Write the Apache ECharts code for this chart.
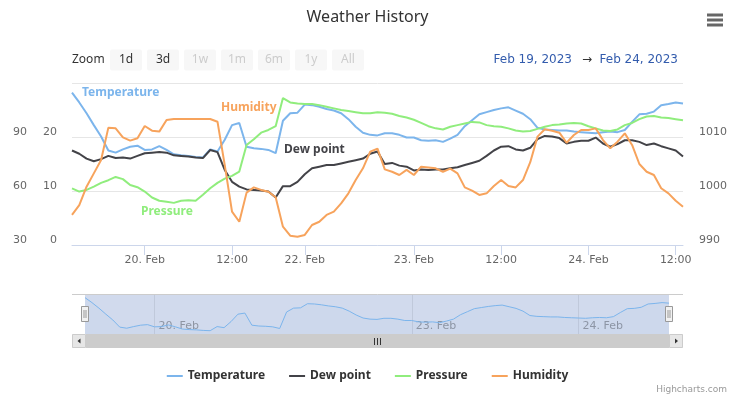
<!DOCTYPE html>
<html>
<head>
<meta charset="utf-8">
<script src="https://cdn.jsdelivr.net/npm/echarts@6/dist/echarts.min.js"></script>
<style>html,body{margin:0;padding:0;background:#fff}#c{width:735px;height:398px}</style>
</head>
<body>
<div id="c"></div>
<script>
// ---- data (hourly points on an ordinal axis, gaps removed) ----
const temperature = [28.2, 26.4, 24.4, 22.2, 20.1, 17.5, 17.1, 17.7, 18.2, 18.4, 17.6, 17.7, 18.3, 17.6, 16.8, 16.6, 16.5, 16.3, 16.2, 17.7, 17.3, 19.5, 22.2,
  22.6, 18.2, 17.9, 17.8, 17.6, 17.0, 23.0, 24.4, 24.5, 26.0, 25.9, 25.6, 25.2, 24.9, 24.4, 23.3, 21.9, 20.8, 20.4, 20.3, 20.7,
  20.7, 20.4, 19.9, 19.9, 19.4, 19.3, 19.4, 19.1, 19.7, 20.4, 22.0, 23.1, 24.2, 24.6, 25.0, 25.3, 25.5, 24.9, 24.3, 23.3,
  21.7, 21.4, 21.3, 21.2, 21.2, 21.0, 20.9, 20.8, 20.7, 20.9, 21.0, 20.9, 21.3, 22.8, 24.2, 24.3, 24.7, 25.9, 26.1, 26.4, 26.2];
const dewPoint = [17.5, 16.9, 16.0, 15.5, 15.9, 16.5, 16.1, 16.2, 16.0, 16.5, 17.0, 17.1, 17.2, 17.1, 16.6, 16.5, 16.4, 16.2, 16.1, 17.6, 17.2, 13.9, 11.7,
  10.8, 10.3, 10.2, 10.1, 9.9, 8.8, 10.9, 10.9, 11.7, 13.1, 14.2, 14.5, 14.8, 14.8, 15.1, 15.4, 15.7, 16.0, 16.9, 17.3, 15.0,
  15.2, 14.7, 14.5, 13.8, 14.0, 13.9, 14.0, 14.0, 14.2, 14.4, 14.8, 15.2, 15.6, 16.5, 17.5, 18.2, 18.3, 17.7, 17.5, 18.0,
  19.6, 20.2, 20.1, 19.8, 18.8, 19.1, 19.3, 19.3, 19.9, 18.8, 18.2, 18.7, 19.4, 19.4, 19.1, 18.5, 18.8, 18.3, 17.9, 17.5, 16.4];
const pressure = [1000.5, 999.9, 1000.2, 1000.8, 1001.5, 1002.0, 1002.6, 1002.2, 1001.1, 1000.7, 999.9, 998.8, 998.2, 998.0, 997.8, 998.2, 998.3, 998.2, 999.3, 1000.5, 1001.5, 1002.3, 1002.8,
  1003.6, 1008.5, 1009.6, 1010.8, 1011.3, 1012.0, 1017.2, 1016.4, 1016.2, 1016.1, 1016.1, 1015.9, 1015.6, 1015.3, 1015.0, 1014.8, 1014.6, 1014.4, 1014.4, 1014.6, 1014.5,
  1014.3, 1013.9, 1013.6, 1013.2, 1012.6, 1012.0, 1011.6, 1011.4, 1011.9, 1012.2, 1012.5, 1012.8, 1012.7, 1012.2, 1012.0, 1011.9, 1011.6, 1011.2, 1011.0, 1011.1,
  1011.5, 1011.9, 1012.2, 1012.3, 1012.5, 1012.6, 1012.5, 1012.0, 1011.6, 1011.2, 1011.1, 1011.4, 1012.2, 1012.6, 1013.3, 1013.8, 1013.9, 1013.6, 1013.5, 1013.3, 1013.1];
const humidity = [46.7, 52.2, 62.4, 69.8, 77.2, 95.2, 94.8, 89.8, 88.0, 89.3, 96.1, 93.5, 93.0, 99.4, 100, 100, 100, 100, 100, 100, 98.5, 74.4, 48.5,
  42.9, 59.1, 62.0, 60.6, 59.6, 56.5, 40.2, 35.2, 34.6, 35.6, 41.1, 42.9, 46.7, 48.5, 53.1, 58.7, 66.1, 72.6, 81.9, 83.5, 72.0,
  70.7, 68.9, 71.7, 68.9, 73.5, 73.1, 72.6, 70.7, 72.4, 69.8, 62.0, 60.2, 57.8, 58.7, 62.8, 66.1, 62.8, 62.0, 66.1, 76.0,
  90.2, 94.3, 93.5, 92.4, 86.8, 91.1, 93.9, 93.9, 94.8, 88.3, 83.7, 87.4, 92.0, 85.6, 75.0, 70.7, 68.9, 61.5, 58.7, 54.6, 51.3];

const tickPositions = [10, 22, 32, 47, 59, 71, 83];
const tickLabels = ['20. Feb', '12:00', '22. Feb', '23. Feb', '12:00', '24. Feb', '12:00'];
const navTickPositions = [10, 47, 71];
const navTickLabels = ['20. Feb', '23. Feb', '24. Feb'];
const seriesNames = ['Temperature', 'Dew point', 'Pressure', 'Humidity'];
const seriesColors = ['#7cb5ec', '#434348', '#90ed7d', '#f7a35c'];
const rangeButtons = ['1d', '3d', '1w', '1m', '6m', '1y', 'All'];
const enabledButtons = ['1d', '3d'];
const dateFrom = 'Feb 19, 2023';
const dateTo = 'Feb 24, 2023';

// ---- helpers ----
const pts = arr => arr.map((v, i) => [i, v]);
function txt(x, y, text, font, fill, align) {
  return { type: 'text', x: x, y: y, silent: true, z: 10,
    style: { text: text, font: font, fill: fill, align: align || 'left', verticalAlign: 'middle',
             textAlign: align || 'left', textVerticalAlign: 'middle' } };
}
function rect(x, y, w, h, fill, stroke, z, r) {
  return { type: 'rect', silent: true, z: z == null ? 5 : z,
    shape: { x: x, y: y, width: w, height: h, r: r || 0 },
    style: { fill: fill, stroke: stroke || null, lineWidth: stroke ? 1 : 0 } };
}
function line(x1, y1, x2, y2, stroke, w, z) {
  return { type: 'line', silent: true, z: z == null ? 6 : z,
    shape: { x1: x1, y1: y1, x2: x2, y2: y2 }, style: { stroke: stroke, lineWidth: w || 1 } };
}

const graphics = [];
// range selector
graphics.push(txt(72, 60, 'Zoom', '12px "Noto Sans"', '#333'));
rangeButtons.forEach((b, k) => {
  const x = 110 + k * 37;
  graphics.push(rect(x, 49.5, 32, 21, '#f7f7f7', null, 5, 2));
  graphics.push(txt(x + 16, 60, b, '12px "Noto Sans"', enabledButtons.includes(b) ? '#333' : '#cccccc', 'center'));
});
graphics.push(txt(572, 60, dateFrom, '12px "DejaVu Sans"', '#335cad', 'right'));
graphics.push(txt(587, 60, '\u2192', '12px "DejaVu Sans"', '#333', 'center'));
graphics.push(txt(678, 60, dateTo, '12px "DejaVu Sans"', '#335cad', 'right'));
// menu icon
[15, 20, 25].forEach(y => graphics.push(line(707, y, 723, y, '#666', 3)));
// series labels
graphics.push(txt(82, 93, 'Temperature', 'bold 12px "Noto Sans"', seriesColors[0]));
graphics.push(txt(221, 108, 'Humidity', 'bold 12px "Noto Sans"', seriesColors[3]));
graphics.push(txt(284, 150, 'Dew point', 'bold 12px "Noto Sans"', seriesColors[1]));
graphics.push(txt(141, 212, 'Pressure', 'bold 12px "Noto Sans"', seriesColors[2]));
// navigator mask + outline
graphics.push(rect(85, 294.5, 584, 39.5, 'rgba(102,133,194,0.3)', null, -1));
graphics.push(line(72, 294.5, 683, 294.5, '#cccccc', 1));
// handles
[85, 669].forEach(cx => {
  graphics.push(rect(cx - 3.5, 306.5, 7, 15, '#f2f2f2', '#999999', 7));
  graphics.push(line(cx - 1, 310, cx - 1, 318, '#999999', 1, 8));
  graphics.push(line(cx + 1, 310, cx + 1, 318, '#999999', 1, 8));
});
// scrollbar
graphics.push(rect(72, 334, 611, 14, '#f2f2f2', null, 5));
graphics.push(rect(86, 334, 583, 14, '#cccccc', null, 6));
graphics.push(rect(72.5, 334.5, 13, 13, '#e6e6e6', '#cccccc', 6));
graphics.push(rect(669.5, 334.5, 13, 13, '#e6e6e6', '#cccccc', 6));
graphics.push({ type: 'polygon', silent: true, z: 7, shape: { points: [[80.5, 338.5], [80.5, 343.5], [77.5, 341]] }, style: { fill: '#333' } });
graphics.push({ type: 'polygon', silent: true, z: 7, shape: { points: [[675, 338.5], [675, 343.5], [678, 341]] }, style: { fill: '#333' } });
[374.5, 377.5, 380.5].forEach(x => graphics.push(line(x, 338, x, 345, '#333', 1, 7)));
// credits
graphics.push(txt(727, 390, 'Highcharts.com', '9px "DejaVu Sans"', '#999999', 'right'));

const chart = echarts.init(document.getElementById('c'), null, { renderer: 'canvas' });
const axisLabelFont = { fontFamily: 'DejaVu Sans', fontSize: 11, color: '#666666' };
const yLabel = extra => Object.assign({ showMaxLabel: false, verticalAlign: 'bottom', lineHeight: 9,
  formatter: v => String(v) }, axisLabelFont, extra);

chart.setOption({
  animation: false,
  backgroundColor: '#ffffff',
  textStyle: { fontFamily: 'DejaVu Sans' },
  title: { text: 'Weather History', left: 'center', top: 9, padding: 0,
    textStyle: { fontFamily: 'Noto Sans', fontSize: 16, fontWeight: 'normal', color: '#333333' } },
  legend: {
    data: seriesNames.map(n => ({ name: n, icon: 'rect' })),
    top: 365, left: 'center', itemWidth: 16, itemHeight: 2, itemGap: 24,
    textStyle: { fontFamily: 'Noto Sans', fontSize: 12, fontWeight: 'bold', color: '#333333' }
  },
  grid: [
    { left: 72, right: 52, top: 83, height: 162 },
    { left: 85, right: 66, top: 295, height: 39 }
  ],
  xAxis: [
    { type: 'value', gridIndex: 0, min: 0, max: 84,
      axisLine: { show: true, lineStyle: { color: '#ccd6eb', width: 1 } },
      axisTick: { show: true, customValues: tickPositions, length: 10, lineStyle: { color: '#ccd6eb' } },
      axisLabel: Object.assign({ customValues: tickPositions, margin: 10,
        formatter: v => tickLabels[tickPositions.indexOf(v)] || '' }, axisLabelFont),
      splitLine: { show: false } },
    { type: 'value', gridIndex: 1, min: 0, max: 84,
      axisLine: { show: false },
      axisTick: { show: true, inside: true, length: 39, customValues: navTickPositions, lineStyle: { color: '#c0c9db' } },
      axisLabel: { customValues: navTickPositions, inside: true, margin: 8, align: 'left', verticalAlign: 'middle',
        padding: [0, 0, 0, 4], fontFamily: 'DejaVu Sans', fontSize: 11, color: '#8e95a3',
        formatter: v => navTickLabels[navTickPositions.indexOf(v)] || '' },
      splitLine: { show: false } }
  ],
  yAxis: [
    { type: 'value', gridIndex: 0, position: 'left', min: 0, max: 30, interval: 10,
      axisLine: { show: false }, axisTick: { show: false },
      axisLabel: yLabel({ margin: 15 }),
      splitLine: { show: true, lineStyle: { color: '#e6e6e6' } } },
    { type: 'value', gridIndex: 0, position: 'right', min: 990, max: 1020, interval: 10,
      axisLine: { show: false }, axisTick: { show: false },
      axisLabel: yLabel({ margin: 16 }),
      splitLine: { show: false } },
    { type: 'value', gridIndex: 0, position: 'left', offset: 30, min: 30, max: 120, interval: 30,
      axisLine: { show: false }, axisTick: { show: false },
      axisLabel: yLabel({ margin: 15 }),
      splitLine: { show: false } },
    { type: 'value', gridIndex: 1, show: false,
      min: v => v.min - (v.max - v.min) * 0.1, max: v => v.max + (v.max - v.min) * 0.08 }
  ],
  series: [
    { name: seriesNames[0], type: 'line', xAxisIndex: 0, yAxisIndex: 0, data: pts(temperature),
      symbol: 'none', lineStyle: { width: 2, color: seriesColors[0] }, itemStyle: { color: seriesColors[0] }, z: 2 },
    { name: seriesNames[1], type: 'line', xAxisIndex: 0, yAxisIndex: 0, data: pts(dewPoint),
      symbol: 'none', lineStyle: { width: 2, color: seriesColors[1] }, itemStyle: { color: seriesColors[1] }, z: 3 },
    { name: seriesNames[2], type: 'line', xAxisIndex: 0, yAxisIndex: 1, data: pts(pressure),
      symbol: 'none', lineStyle: { width: 2, color: seriesColors[2] }, itemStyle: { color: seriesColors[2] }, z: 4 },
    { name: seriesNames[3], type: 'line', xAxisIndex: 0, yAxisIndex: 2, data: pts(humidity),
      symbol: 'none', lineStyle: { width: 2, color: seriesColors[3] }, itemStyle: { color: seriesColors[3] }, z: 5 },
    { name: 'navigator', type: 'line', xAxisIndex: 1, yAxisIndex: 3, data: pts(temperature),
      symbol: 'none', lineStyle: { width: 1, color: seriesColors[0] },
      areaStyle: { color: 'rgba(124,181,236,0.05)' }, z: 2 }
  ],
  graphic: { elements: graphics }
});
</script>
</body>
</html>
